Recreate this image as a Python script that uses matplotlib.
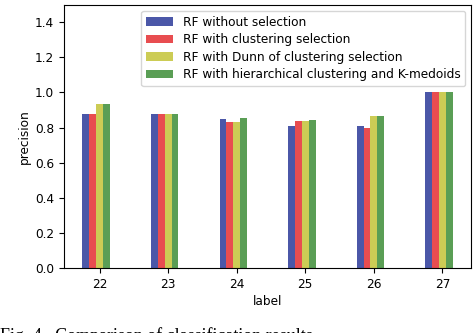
import numpy as np
import matplotlib
matplotlib.use('Agg')
import matplotlib.pyplot as plt

labels = [22, 23, 24, 25, 26, 27]
rf_plain = [0.88, 0.88, 0.850, 0.810, 0.810, 1.0]
rf_clust = [0.88, 0.88, 0.829, 0.840, 0.800, 1.0]
rf_dunn = [0.935, 0.88, 0.834, 0.836, 0.865, 1.0]
rf_hier = [0.935, 0.88, 0.853, 0.846, 0.865, 1.0]

names = ['RF without selection', 'RF with clustering selection',
         'RF with Dunn of clustering selection',
         'RF with hierarchical clustering and K-medoids']
colors = ['#4b57a8', '#e84d50', '#cccc55', '#5a9e55']

fs = 8.7
fig = plt.figure(figsize=(4.74, 3.33), dpi=100)
ax = fig.add_axes([0.135, 0.195, 0.859, 0.791])

x = np.array(labels, dtype=float)
w = 0.1
series = [rf_plain, rf_clust, rf_dunn, rf_hier]
for i, (vals, nm, c) in enumerate(zip(series, names, colors)):
    ax.bar(x + (i - 2) * w, vals, w, color=c, label=nm)

ax.set_ylim(0, 1.5)
ax.set_xticks(x)
ax.set_xticklabels([str(v) for v in labels])
ax.set_yticks(np.arange(0, 1.41, 0.2))
ax.tick_params(labelsize=fs)
ax.set_xlabel('label', fontsize=fs, labelpad=3)
ax.set_ylabel('precision', fontsize=fs, labelpad=3)
ax.legend(loc='upper right', fontsize=fs, handlelength=2.2, labelspacing=0.38)

# caption, cut off at the bottom like the scan
fig.text(0.0, 1 - 327 / 333, 'Fig. 4.  Comparison of classification results',
         va='top', ha='left', family='Liberation Serif', fontsize=13)

fig.savefig('out.png', dpi=100)
